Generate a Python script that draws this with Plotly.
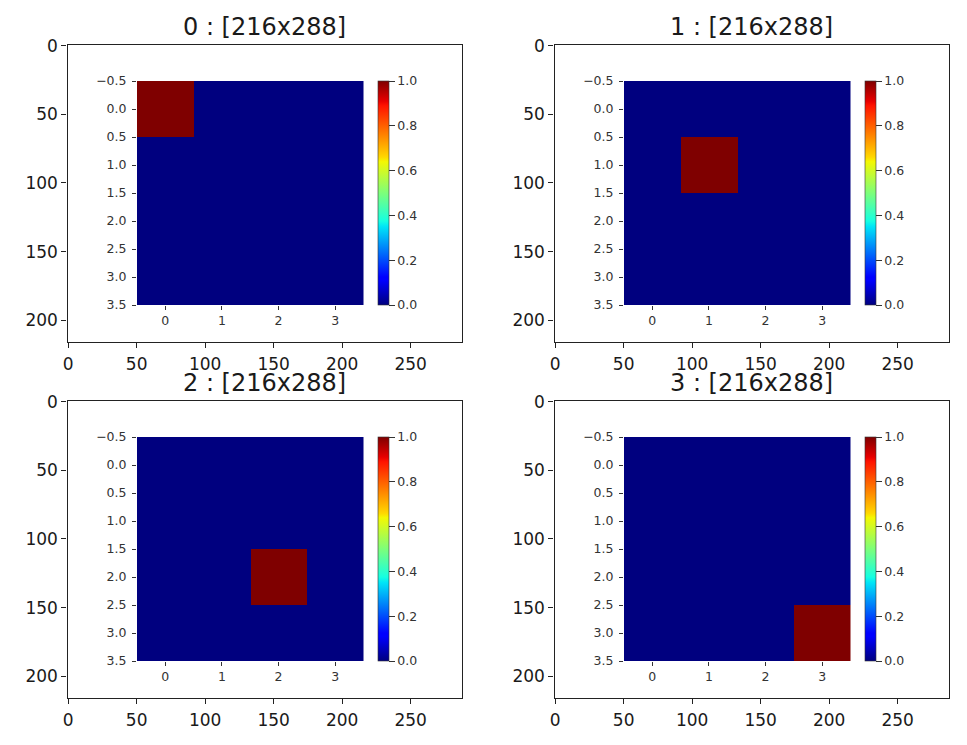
import plotly.graph_objects as go

W, H = 967, 745
panel_ids = [0, 1, 2, 3]
panel_title = "{} : [216x288]"
img_height, img_width = 216, 288
hot_cells = [(0, 0), (1, 1), (2, 2), (3, 3)]
grid_x = [0, 1, 2, 3]
grid_y = [0, 1, 2, 3]
outer_xticks = [0, 50, 100, 150, 200, 250]
outer_yticks = [0, 50, 100, 150, 200]
inner_yticks = [-0.5, 0, 0.5, 1, 1.5, 2, 2.5, 3, 3.5]
inner_ylabels = ["\u22120.5", "0.0", "0.5", "1.0", "1.5", "2.0", "2.5", "3.0", "3.5"]
cbar_ticks = [0, 0.2, 0.4, 0.6, 0.8, 1.0]
jet = [[0, "#00007f"], [0.11, "#0000ff"], [0.125, "#0000ff"], [0.35, "#00e5f7"],
       [0.375, "#16ffe1"], [0.5, "#7dff7a"], [0.64, "#f4f802"], [0.66, "#ffd700"],
       [0.89, "#ff1300"], [0.91, "#e80000"], [1, "#7f0000"]]

outer_left = [67.5, 554.5]
outer_top = [45, 401]
outer_w, outer_h = 394.5, 296.5
in_dx, in_dy, in_w, in_h = 69.5, 36, 226.5, 224
cb_dx, cb_w = 310.5, 11
TXT = "#1a1a1a"
INN = "#333333"

fig = go.Figure()
layout = {}
annotations = []
for i, pid in enumerate(panel_ids):
    L = outer_left[i % 2]
    T = outer_top[i // 2]
    a = 2 * i + 1
    b = 2 * i + 2
    ox, oy = f"xaxis{a}", f"yaxis{a}"
    ix, iy = f"xaxis{b}", f"yaxis{b}"
    layout[ox] = dict(domain=[L / W, (L + outer_w) / W], range=[-0.5, img_width - 0.5],
                      anchor=f"y{a}", tickvals=outer_xticks, ticks="outside", ticklen=5, tickwidth=1.4,
                      tickcolor="#222", showgrid=False, zeroline=False, showline=True, mirror=True,
                      linecolor="#222", linewidth=1.4, tickfont=dict(size=17, color=TXT), automargin=False,
                      ticklabelstandoff=2)
    layout[oy] = dict(domain=[1 - (T + outer_h) / H, 1 - T / H], range=[img_height - 0.5, -0.5],
                      anchor=f"x{a}", tickvals=outer_yticks, ticks="outside", ticklen=5, tickwidth=1.4,
                      tickcolor="#222", showgrid=False, zeroline=False, showline=True, mirror=True,
                      linecolor="#222", linewidth=1.4, tickfont=dict(size=17, color=TXT), automargin=False)
    fig.add_trace(go.Scatter(x=[None], y=[None], xaxis=f"x{a}", yaxis=f"y{a}", showlegend=False))
    x0, y0 = L + in_dx, T + in_dy
    layout[ix] = dict(domain=[x0 / W, (x0 + in_w) / W], range=[-0.5, 3.5], anchor=f"y{b}",
                      tickvals=grid_x, ticks="outside", ticklen=4, tickwidth=0.8, tickcolor=INN,
                      showgrid=False, zeroline=False, showline=False, tickfont=dict(size=12.5, color=INN))
    layout[iy] = dict(domain=[1 - (y0 + in_h) / H, 1 - y0 / H], range=[3.5, -0.5], anchor=f"x{b}",
                      tickvals=inner_yticks, ticktext=inner_ylabels, ticks="outside", ticklen=4,
                      tickwidth=0.8, tickcolor=INN, showgrid=False, zeroline=False, showline=False,
                      tickfont=dict(size=12.5, color=INN), ticklabelstandoff=3)
    r, c = hot_cells[i]
    z = [[1 if (ry, cx) == (r, c) else 0 for cx in grid_x] for ry in grid_y]
    fig.add_trace(go.Heatmap(z=z, x=grid_x, y=grid_y, xaxis=f"x{b}", yaxis=f"y{b}", zmin=0, zmax=1,
                             colorscale=jet, xgap=0, ygap=0, colorbar=dict(
                                 x=(L + cb_dx) / W, xanchor="left", y=1 - y0 / H, yanchor="top",
                                 len=in_h / H, lenmode="fraction", thickness=cb_w, thicknessmode="pixels",
                                 xpad=0, ypad=0, tickvals=cbar_ticks, ticktext=[f"{v:.1f}" for v in cbar_ticks],
                                 ticks="outside", ticklen=6, tickwidth=0.8, tickcolor=INN,
                                 outlinecolor=INN, outlinewidth=0.6, borderwidth=0,
                                 tickfont=dict(size=12.5, color=INN))))
    annotations.append(dict(text=panel_title.format(pid), xref="paper", yref="paper",
                            x=(L + outer_w / 2) / W, y=1 - (T - 2) / H, xanchor="center", yanchor="bottom",
                            showarrow=False, font=dict(size=24, color=TXT)))

fig.update_layout(width=W, height=H, margin=dict(l=0, r=0, t=0, b=0, pad=0, autoexpand=False), autosize=False,
                  paper_bgcolor="white", plot_bgcolor="white", showlegend=False,
                  font=dict(family="DejaVu Sans"), annotations=annotations, **layout)
fig.write_html("out.html", config=dict(displayModeBar=False),
               post_script="document.body.style.margin='0';document.body.style.overflow='hidden';")
